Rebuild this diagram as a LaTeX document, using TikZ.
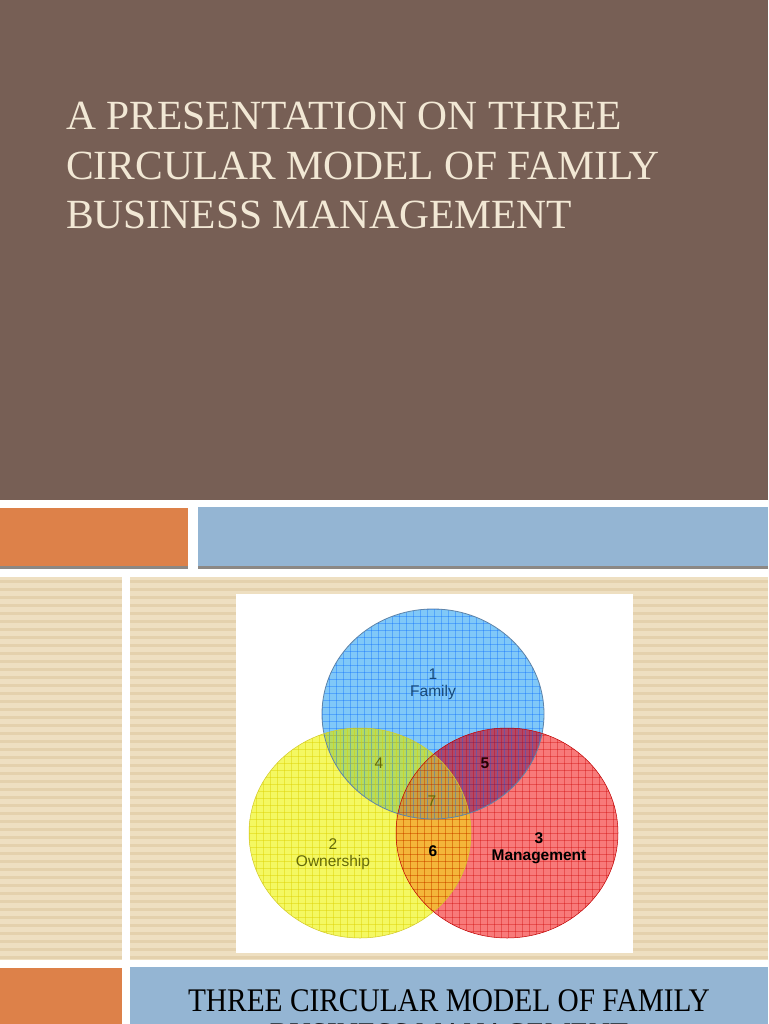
\documentclass[tikz,border=0pt]{standalone}
\usepackage{fontspec}
\setmainfont{Liberation Serif}
\newfontfamily\vennfont{Liberation Sans}
\usetikzlibrary{positioning}

\definecolor{slidebrown}{HTML}{775F55}
\definecolor{titlecream}{HTML}{F2E8D5}
\definecolor{barorange}{HTML}{DD8149}
\definecolor{barblue}{HTML}{94B5D3}
\definecolor{barshadow}{HTML}{8C8884}
\definecolor{paneltan}{HTML}{EEDFC1}
\definecolor{panelstripe}{HTML}{E4D1AD}
\definecolor{famblue}{HTML}{80C8F8}
\definecolor{ownyellow}{HTML}{F4F862}
\definecolor{mgtred}{HTML}{F87A7A}
\definecolor{fogreen}{HTML}{B6DC5E}
\definecolor{fmmaroon}{HTML}{B0486A}
\definecolor{omorange}{HTML}{F4B63A}
\definecolor{allochre}{HTML}{C8A046}
\definecolor{famtext}{HTML}{174878}
\definecolor{olivetext}{HTML}{646A08}
\definecolor{famedge}{HTML}{5F84A8}

\begin{document}
\begin{tikzpicture}[x=1pt, y=-1pt]

% Define styles
\tikzstyle{titleline} = [anchor=base west, inner sep=0pt, text=titlecream, font=\fontsize{41.5}{49.5}\selectfont]
\tikzstyle{footline} = [anchor=base, inner sep=0pt, xscale=0.89, font=\fontsize{33}{38}\selectfont]
\tikzstyle{vennlabel} = [inner sep=0pt, align=center, font=\vennfont\fontsize{15.5}{17}\selectfont]
\tikzstyle{vennbold} = [vennlabel, font=\vennfont\bfseries\fontsize{15.5}{17}\selectfont]
\tikzstyle{famgrid} = [line width=0.6pt, color=blue!60!cyan, draw opacity=0.35]
\tikzstyle{owngrid} = [line width=0.6pt, color=yellow!70!olive, draw opacity=0.45]
\tikzstyle{mgtgrid} = [line width=0.6pt, color=red!80!black, draw opacity=0.35]

\useasboundingbox (0,0) rectangle (768,1024);
\fill[white] (0,0) rectangle (768,1024);

% TITLE AREA
\fill[slidebrown] (0,0) rectangle (768,500);
\node (title1) [titleline] at (66,130) {A PRESENTATION ON THREE};
\node (title2) [titleline] at (66,179.5) {CIRCULAR MODEL OF FAMILY};
\node (title3) [titleline] at (66,229) {BUSINESS MANAGEMENT};

% Colour bars
\fill[barorange] (0,508) rectangle (188,566);
\fill[barshadow] (0,566) rectangle (188,569);
\fill[barblue] (198,507) rectangle (768,566);
\fill[barshadow] (198,566) rectangle (768,569);

% Striped panels
\fill[paneltan] (0,577) rectangle (122,960);
\fill[paneltan] (130,577) rectangle (768,960);
\foreach \y in {580,588,...,956} {
  \fill[panelstripe] (0,\y) rectangle (122,{\y+3});
  \fill[panelstripe] (130,\y) rectangle (768,{\y+3});
}

% Picture frame
\fill[white] (236,594) rectangle (633,953);

% VENN DIAGRAM - base circles
\fill[famblue] (433,714) ellipse [x radius=111, y radius=105];
\fill[ownyellow] (360,833) ellipse [x radius=111, y radius=105];
\fill[mgtred] (507,833) ellipse [x radius=111, y radius=105];

% Overlaps
\begin{scope}
  \clip (433,714) ellipse [x radius=111, y radius=105];
  \fill[fogreen] (360,833) ellipse [x radius=111, y radius=105];
  \fill[fmmaroon] (507,833) ellipse [x radius=111, y radius=105];
\end{scope}
\begin{scope}
  \clip (360,833) ellipse [x radius=111, y radius=105];
  \fill[omorange] (507,833) ellipse [x radius=111, y radius=105];
\end{scope}
\begin{scope}
  \clip (433,714) ellipse [x radius=111, y radius=105];
  \clip (360,833) ellipse [x radius=111, y radius=105];
  \fill[allochre] (507,833) ellipse [x radius=111, y radius=105];
\end{scope}

% Grid texture
\begin{scope}
  \clip (433,714) ellipse [x radius=111, y radius=105];
  \foreach \g in {0,7,...,224} {
    \draw[famgrid] ({322+\g},609) -- ({322+\g},819);
    \draw[famgrid] (322,{609+\g}) -- (544,{609+\g});
  }
\end{scope}
\begin{scope}
  \clip (360,833) ellipse [x radius=111, y radius=105];
  \foreach \g in {0,7,...,224} {
    \draw[owngrid] ({249+\g},728) -- ({249+\g},938);
    \draw[owngrid] (249,{728+\g}) -- (471,{728+\g});
  }
\end{scope}
\begin{scope}
  \clip (507,833) ellipse [x radius=111, y radius=105];
  \foreach \g in {0,7,...,224} {
    \draw[mgtgrid] ({396+\g},728) -- ({396+\g},938);
    \draw[mgtgrid] (396,{728+\g}) -- (618,{728+\g});
  }
\end{scope}

% Outlines
\draw[famedge, line width=0.8pt] (433,714) ellipse [x radius=111, y radius=105];
\draw[yellow!80!black, line width=0.5pt] (360,833) ellipse [x radius=111, y radius=105];
\draw[red!75!black, line width=0.5pt] (507,833) ellipse [x radius=111, y radius=105];

% Region labels
\node (family) [vennlabel, text=famtext] at (433,684) {1\\Family};
\node (ownership) [vennlabel, text=olivetext] at (333,854) {2\\Ownership};
\node (management) [vennbold, text=black] at (539,848) {3\\Management};
\node (fo) [vennlabel, text=olivetext] at (379,763) {4};
\node (fm) [vennbold, text=black!85!red] at (485,763) {5};
\node (om) [vennbold, text=black] at (433,851) {6};
\node (all) [vennlabel, text=olivetext] at (432,801) {7};

% FOOTER
\fill[barorange] (0,968) rectangle (122,1024);
\fill[barblue] (130,967) rectangle (768,1024);
\node (foot1) [footline] at (449,1011) {THREE CIRCULAR MODEL OF FAMILY};
\node (foot2) [footline] at (449,1045) {BUSINESS MANAGEMENT};

\end{tikzpicture}
\end{document}
